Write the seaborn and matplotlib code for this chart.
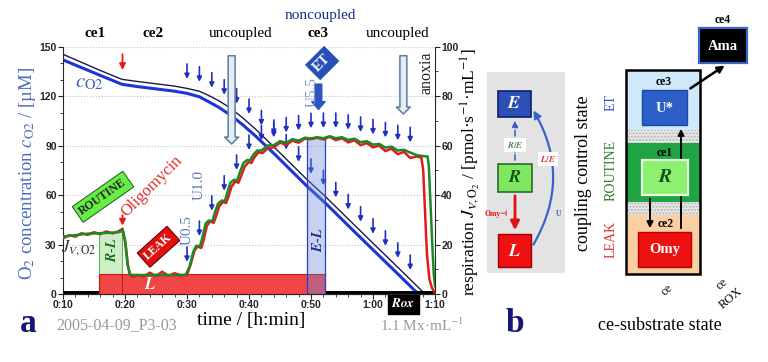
import numpy as np
import matplotlib
matplotlib.use("Agg")
import matplotlib.pyplot as plt
import seaborn as sns
from matplotlib.patches import Rectangle, FancyArrowPatch

# ---- data (time in minutes) ----
# O2 concentration [uM], two traces (blue thick, navy thin)
o2_time = [10, 13, 16, 19.5, 22, 25, 28, 30, 32, 33.5, 35, 37, 39, 41, 44, 49.3, 52.3, 56, 60, 64, 67.3]
o2_blue = [142, 137.3, 132.6, 127.2, 125.8, 124.4, 123, 121.7, 119.6, 116.6, 113.5, 108.6, 102.6, 96, 85.3, 65.6, 55.2, 41.5, 26.8, 12.2, 0]
o2_navy_time = [10, 13, 16, 19.5, 22, 25, 28, 30, 32, 33.5, 35, 37, 39, 41, 44, 49.3, 52.3, 56, 60, 64, 68.4]
o2_navy = [145.4, 140.5, 135.6, 130.2, 128.9, 127.5, 126.1, 124.7, 123, 120.4, 117.5, 112.8, 106.8, 100.2, 89.3, 69.6, 59.2, 45.5, 30.8, 16.2, 0]

# respiration J_V,O2 [pmol/s/mL], red and green traces
red_time = [10, 11, 12, 13, 14, 15, 16, 17, 18, 19, 19.6, 20.1, 20.5, 20.9, 21.5, 22, 23, 24, 25, 26, 27, 28, 29, 30,
            30.6, 31.2, 31.7, 32.3, 32.7, 33.2, 33.7, 34.3, 34.7, 35.2, 35.8, 36.3, 36.7, 37.2, 37.8, 38.3, 38.7, 39.3,
            39.9, 40.4, 40.8, 41.5, 42.2, 43, 44, 45, 46, 47, 48, 49, 50, 51, 52, 53, 54, 55, 56, 57, 58, 59, 60, 61,
            62, 63, 64, 65, 66, 67, 67.8, 68.1, 68.4, 68.7, 69.1, 69.5, 70]
red_resp = [22.5, 23.8, 23.2, 24.6, 23.9, 25.0, 24.2, 25.3, 24.5, 25.4, 26.4, 20, 11, 7.2, 7.0, 7.8, 7.1, 8.6, 7.3, 9.0, 7.4, 8.4, 7.5, 7.7,
            12, 17.5, 19.2, 18.6, 22, 27.5, 29.3, 28.8, 31.5, 35.5, 37.2, 36.8, 39.5, 43.5, 45.5, 45.0, 47.5, 51.5,
            53.3, 53, 55, 57.3, 57, 59, 59.3, 61.2, 60.3, 62, 61.2, 62.8, 62.6, 63.2, 62.5, 63.6, 62.2, 63, 61.3, 62.2, 60.2, 61, 59.3, 60,
            57.8, 58.8, 56.5, 57.5, 55, 55.6, 55.2, 50, 33, 16, 6, 2.5, 0.5]
green_time = [10, 12, 14, 16, 18, 19, 19.6, 20.0, 20.4, 20.8, 22, 24, 26, 28, 29.8, 30.4, 31.0, 31.5, 32.1, 32.5, 33.0, 33.5,
              34.1, 34.5, 35.0, 35.6, 36.1, 36.5, 37.0, 37.6, 38.1, 38.5, 39.1, 39.7, 40.2, 40.6, 41.3, 42, 43, 44, 45, 46,
              47, 48, 49, 50, 51, 52, 53, 54, 55, 56, 57, 58, 59, 60, 61, 62, 63, 64, 65, 66, 67, 68, 68.8, 69.0, 69.3,
              69.6, 69.8, 70]
green_resp = [23.2, 23.8, 24.4, 24.6, 24.8, 25.0, 26.0, 22, 12, 7.8, 7.6, 7.7, 7.7, 7.6, 7.8, 11, 17, 19.5, 19.3, 23, 28.5, 29.7,
              29.5, 33, 36.5, 37.8, 37.6, 41, 45, 46.2, 46, 49, 53, 54.2, 54, 56, 58, 58, 60, 60.2, 61.8, 61.2,
              62.6, 62, 63.2, 62.9, 63.4, 63, 63.8, 63, 63.4, 62.3, 62.8, 61.4, 61.8, 60.4, 60.7, 59.2, 59.6, 58, 58.3, 57.2, 56.2, 55.8, 55.6, 52, 35,
              18, 8, 3]

# titrations
oligo_time = 19.6
titration_times = [30, 32, 34, 36, 38, 40, 42, 44, 46, 48, 50, 52, 54, 56, 58, 60, 62, 64, 66]
uncoupled_arrow_times = [37.2, 64.9]
uncoupled_arrow_ends = [89.3, 107.5]
et_time = 51.2

# flux-control windows: (start, end, level)
rl_window = (15.85, 19.5, 25.2)
leak_window = (15.85, 52.3, 8.1)
el_window = (49.4, 52.3, 63.0)

x_ticks = [10, 20, 30, 40, 50, 60, 70]
o2_ticks = [0, 30, 60, 90, 120, 150]
resp_ticks = [0, 20, 40, 60, 80, 100]

# ---- style ----
sns.set_style("ticks")
plt.rcParams['font.family'] = ['Liberation Serif', 'DejaVu Sans']
plt.rcParams['mathtext.fontset'] = 'stix'

fig = plt.figure(figsize=(7.68, 3.62), dpi=100)
ax = fig.add_axes([63 / 768, 1 - 294 / 362, 372 / 768, 247.3 / 362])
ax2 = ax.twinx()

ax.set_xlim(10, 70)
ax.set_ylim(0, 150)
ax2.set_ylim(0, 100)
for a in (ax, ax2):
    a.spines['top'].set_visible(False)
ax.spines['right'].set_visible(False)
ax2.spines['left'].set_visible(False)

tick_font = dict(fontweight='bold', fontfamily='Liberation Sans', fontsize=7.5)
ax.set_xticks(x_ticks, labels=[f"{m // 60}:{m % 60:02d}" for m in x_ticks], **tick_font)
ax.set_xticks(np.arange(10, 71, 2), minor=True)
ax.set_yticks(o2_ticks, labels=[str(v) for v in o2_ticks], **tick_font)
ax.set_yticks(np.arange(0, 151, 10), minor=True)
ax2.set_yticks(resp_ticks, labels=[str(v) for v in resp_ticks], **tick_font)
ax2.set_yticks(np.arange(0, 101, 10), minor=True)
for a in (ax, ax2):
    a.tick_params(which='major', length=3.5, width=0.8, pad=1)
    a.tick_params(which='minor', length=2, width=0.6)
ax.grid(axis='y', ls=':', color='#c4c4c4', lw=0.8)

# O2 traces
sns.lineplot(x=o2_navy_time, y=o2_navy, ax=ax, color='#1a1a4e', lw=1.0)
sns.lineplot(x=o2_time, y=o2_blue, ax=ax, color='#1f35d8', lw=2.2)

# zero bar
ax2.plot([10, 70], [0, 0], color='black', lw=5, solid_capstyle='butt', zorder=1)

# control windows
ax2.add_patch(Rectangle((rl_window[0], 0), rl_window[1] - rl_window[0], rl_window[2],
                        fc='#cdeec6', ec='#5fb85a', lw=0.8, zorder=1.5))
ax2.add_patch(Rectangle((leak_window[0], 0), leak_window[1] - leak_window[0], leak_window[2],
                        fc='#f24545', ec='#b81c1c', lw=0.8, zorder=1.6))
ax2.plot([rl_window[1], rl_window[1]], [0, leak_window[2]], color='#b81c1c', lw=0.7, zorder=1.7)
ax2.add_patch(Rectangle((el_window[0], 0), el_window[1] - el_window[0], el_window[2],
                        fc='#6a8ad6', alpha=0.38, ec='none', zorder=1.8))
ax2.add_patch(Rectangle((el_window[0], 0), el_window[1] - el_window[0], el_window[2],
                        fc='none', ec='#2a3fd0', lw=0.9, zorder=1.9))

# respiration traces
sns.lineplot(x=red_time, y=red_resp, ax=ax2, color='#e31a1a', lw=1.8, zorder=3)
sns.lineplot(x=green_time, y=green_resp, ax=ax2, color='#1b8a26', lw=1.8, zorder=3.1)

# titration arrows
arrow_kw = dict(arrowstyle='-|>', color='#1f2fc0', lw=1.2, mutation_scale=7)
for t in titration_times:
    base = np.interp(t, o2_navy_time, o2_navy) + 4
    ax.annotate('', xy=(t, base), xytext=(t, base + 12.5), arrowprops=arrow_kw)
    base = np.interp(t, green_time, green_resp) + 3
    ax2.annotate('', xy=(t, base), xytext=(t, base + 8.3), arrowprops=arrow_kw, zorder=4)
red_kw = dict(arrowstyle='-|>', color='#e31a1a', lw=1.3, mutation_scale=9)
base = np.interp(oligo_time, o2_navy_time, o2_navy) + 4
ax.annotate('', xy=(oligo_time, base), xytext=(oligo_time, base + 13), arrowprops=red_kw)
base = np.interp(oligo_time, green_time, green_resp) + 0.5
ax2.annotate('', xy=(oligo_time, base), xytext=(oligo_time, base + 6.5), arrowprops=red_kw, zorder=4)

# hollow "uncoupled" arrows (O2 axis units, drawn on top)
for t, bottom in zip(uncoupled_arrow_times, uncoupled_arrow_ends):
    ax2.add_patch(FancyArrowPatch((t, 146.2 / 1.5), (t, bottom / 1.5),
                                  arrowstyle='simple,head_length=0.5,head_width=1.0,tail_width=0.5',
                                  mutation_scale=10, fc='#e6edf5', ec='#5a7ca6', lw=1.1, zorder=5))
# ET arrow
ax2.add_patch(FancyArrowPatch((et_time, 86), (et_time, 73.5),
                              arrowstyle='simple,head_length=0.7,head_width=1.2,tail_width=0.6',
                              mutation_scale=8, color='#2a55c0', zorder=5))

# labels inside plot
ax2.text(16.45, 39.3, 'ROUTINE', rotation=35, ha='center', va='center', fontsize=8.5, fontweight='bold',
         bbox=dict(boxstyle='square,pad=0.3', fc='#66ee44', ec='#2a6a2a', lw=0.8), zorder=6)
ax2.text(25.4, 19.1, 'LEAK', rotation=42, ha='center', va='center', fontsize=8.5, fontweight='bold', color='white',
         bbox=dict(boxstyle='square,pad=0.3', fc='#e01010', ec='#700000', lw=0.8), zorder=6)
ax2.text(24.4, 43.4, 'Oligomycin', rotation=45, ha='center', va='center', fontsize=12, color='#e03030', zorder=6)
ax2.text(30.1, 25.9, 'U0.5', rotation=90, ha='center', va='center', fontsize=11, color='#5a78c0', zorder=6)
ax2.text(31.9, 44, 'U1.0', rotation=90, ha='center', va='center', fontsize=11, color='#5a78c0', zorder=6)
ax2.text(50.2, 81.5, 'U5.5', rotation=90, ha='center', va='center', fontsize=11, color='#7b95d0', zorder=6)
ax2.text(51.8, 93.4, 'ET', rotation=45, ha='center', va='center', fontsize=10, fontweight='bold', color='white',
         bbox=dict(boxstyle='square,pad=0.35', fc='#2650b8', ec='white', lw=0.8), zorder=6)
ax2.text(68.6, 89.5, 'anoxia', rotation=90, ha='center', va='center', fontsize=11.5, color='#222222', zorder=6)
ax2.text(17.85, 17.8, '$\\boldsymbol{R}$-$\\boldsymbol{L}$', rotation=90, ha='center', va='center', fontsize=10,
         color='#1a6a1a', zorder=6)
ax2.text(24, 3.8, '$\\boldsymbol{L}$', ha='center', va='center', fontsize=12, color='white', zorder=6)
ax2.text(51.1, 21.8, '$\\boldsymbol{E}$-$\\boldsymbol{L}$', rotation=90, ha='center', va='center', fontsize=10,
         color='#1a2a8a', zorder=6)
ax.text(14.2, 128, '$c_{\\mathrm{O2}}$', ha='center', va='center', fontsize=15, color='#3d5fb0', zorder=6)
ax2.text(12.5, 18.4, '$J_{V,\\mathrm{O2}}$', ha='center', va='center', fontsize=12, color='#333333', zorder=6)

# labels above plot
top = ax.get_xaxis_transform()
for x, s, w in [(15.2, 'ce1', 'bold'), (24.5, 'ce2', 'bold'), (38.6, 'uncoupled', 'normal'),
                (51.1, 'ce3', 'bold'), (64.0, 'uncoupled', 'normal')]:
    ax.text(x, 1.055, s, transform=top, ha='center', va='center', fontsize=11, fontweight=w, color='black')
ax.text(51.5, 1.125, 'noncoupled', transform=top, ha='center', va='center', fontsize=11, color='#1a2a8a')
ax.text(64.9, -0.04, '$\\boldsymbol{Rox}$', transform=top, ha='center', va='center', fontsize=9.5, color='white',
        bbox=dict(boxstyle='square,pad=0.25', fc='black', ec='black'))

# ---- overlay in figure pixels: axis titles and panel b ----
bx = fig.add_axes([0, 0, 1, 1], facecolor='none')
bx.set_xlim(0, 768)
bx.set_ylim(362, 0)
bx.axis('off')

bx.text(28, 173, 'O$_2$ concentration $c_{\\mathrm{O2}}$ / [µM]', rotation=90, ha='center', va='center',
        fontsize=13.5, color='#4a6bbf')
bx.text(470, 172, 'respiration $J_{V,\\mathrm{O_2}}$ / [pmol·s$^{-1}$·mL$^{-1}$]', rotation=90, ha='center',
        va='center', fontsize=12.5, color='black')
bx.text(28, 324, 'a', ha='center', va='center', fontsize=24, fontweight='bold', color='#14147a')
bx.text(117, 325, '2005-04-09_P3-03', ha='center', va='center', fontsize=11.5, color='#999999')
bx.text(251, 321, 'time / [h:min]', ha='center', va='center', fontsize=14, color='black')
bx.text(422, 325, '1.1 Mx·mL$^{-1}$', ha='center', va='center', fontsize=11, color='#999999')


def rect(x0, y0, x1, y1, fc, ec='none', lw=0.0, z=2, **kw):
    bx.add_patch(Rectangle((x0, y0), x1 - x0, y1 - y0, facecolor=fc, edgecolor=ec, linewidth=lw, zorder=z, **kw))


# left scheme
rect(487, 72, 565, 273, '#e3e3e3', z=1)
rect(498, 91, 531, 117, '#2b50b5', '#0f1f6a', 1.2)
rect(498, 164, 532, 192, '#80e860', '#2a6a2a', 1.2)
rect(498, 234, 531, 267, '#ee1111', '#a00000', 1.0)
bx.text(514.5, 104, '$\\boldsymbol{E}$', ha='center', va='center', fontsize=13, color='white', zorder=3)
bx.text(515, 178, '$\\boldsymbol{R}$', ha='center', va='center', fontsize=13, color='#145214', zorder=3)
bx.text(514.5, 251, '$\\boldsymbol{L}$', ha='center', va='center', fontsize=13, color='white', zorder=3)
bx.annotate('', xy=(515, 118), xytext=(515, 163),
            arrowprops=dict(arrowstyle='-|>', ls='--', color='#3a5ac8', lw=1.1, mutation_scale=9))
bx.text(515, 145, '$\\boldsymbol{R/E}$', ha='center', va='center', fontsize=6.5, color='#4a8a4a', zorder=4,
        bbox=dict(boxstyle='square,pad=0.25', fc='white', ec='none'))
bx.annotate('', xy=(515, 233), xytext=(515, 193),
            arrowprops=dict(arrowstyle='-|>', color='#e01010', lw=2.0, mutation_scale=13))
bx.text(496, 214, 'Omy⊣', ha='center', va='center', fontsize=5.5, fontweight='bold', color='#e01010')
bx.add_patch(FancyArrowPatch((532, 247), (532, 108), connectionstyle='arc3,rad=0.3', arrowstyle='-|>',
                             color='#3a64c8', lw=1.6, mutation_scale=11, zorder=3))
bx.text(548, 159, '$\\boldsymbol{L/E}$', ha='center', va='center', fontsize=6.5, color='#d03030', zorder=4,
        bbox=dict(boxstyle='square,pad=0.25', fc='white', ec='none'))
bx.text(559, 214, 'U', ha='center', va='center', fontsize=5.5, fontweight='bold', color='#3a64c8')

# right scheme
bx.text(584, 173, 'coupling control state', rotation=90, ha='center', va='center', fontsize=13, color='black')
bx.text(611, 103, 'ET', rotation=90, ha='center', va='center', fontsize=10, color='#3a4fd0')
bx.text(611, 170, 'ROUTINE', rotation=90, ha='center', va='center', fontsize=10, color='#2a7a2a')
bx.text(611, 240, 'LEAK', rotation=90, ha='center', va='center', fontsize=10, color='#e03030')
rect(626, 70, 700, 130, '#cfe8fa', z=1)
rect(626, 130, 700, 143, '#e6e6e6', ec='#b5b5b5', z=1, hatch='.....')
rect(626, 143, 700, 202, '#1fa344', z=1)
rect(626, 202, 700, 215, '#e6e6e6', ec='#b5b5b5', z=1, hatch='.....')
rect(626, 215, 700, 274, '#f9cfa3', z=1)
rect(626, 70, 700, 274, 'none', 'black', 1.8, z=6)
rect(642, 90, 687, 125, '#2d5fc8', '#1e48a8', 1.0, z=4)
rect(642, 160, 688, 195, '#8cf070', '#e6ffe0', 1.6, z=4)
rect(638, 232, 691, 267, '#ee1111', '#c00000', 1.0, z=4)
rect(699, 28, 747, 63, 'black', '#3a64c8', 1.6, z=4)
bx.text(664.5, 108, 'U*', ha='center', va='center', fontsize=10.5, fontweight='bold', color='white', zorder=5)
bx.text(665, 178, '$\\boldsymbol{R}$', ha='center', va='center', fontsize=14, color='#145214', zorder=5)
bx.text(664.5, 250, 'Omy', ha='center', va='center', fontsize=10.5, fontweight='bold', color='white', zorder=5)
bx.text(723, 46, 'Ama', ha='center', va='center', fontsize=10.5, fontweight='bold', color='white', zorder=5)
for x, y, s in [(664, 82, 'ce3'), (665, 153, 'ce1'), (666, 224, 'ce2'), (723, 20, 'ce4')]:
    bx.text(x, y, s, ha='center', va='center', fontsize=8.5, fontweight='bold', color='black', zorder=5)
bx.annotate('', xy=(650, 231), xytext=(650, 196),
            arrowprops=dict(arrowstyle='-|>', color='black', lw=1.4, mutation_scale=9), zorder=5)
bx.annotate('', xy=(681, 126), xytext=(681, 231),
            arrowprops=dict(arrowstyle='-|>', color='black', lw=1.4, mutation_scale=9), zorder=3)
bx.annotate('', xy=(727, 64), xytext=(688, 90),
            arrowprops=dict(arrowstyle='-|>', color='black', lw=1.8, mutation_scale=10), zorder=5)
bx.text(667, 290, 'ce', rotation=40, ha='center', va='center', fontsize=9, color='black')
bx.text(722, 284, 'ce', rotation=40, ha='center', va='center', fontsize=9, color='black')
bx.text(731, 298, 'ROX', rotation=40, ha='center', va='center', fontsize=9, color='black')
bx.text(515, 323, 'b', ha='center', va='center', fontsize=24, fontweight='bold', color='#14147a')
bx.text(660, 325, 'ce-substrate state', ha='center', va='center', fontsize=13, color='black')

fig.savefig('out.png', dpi=100)
